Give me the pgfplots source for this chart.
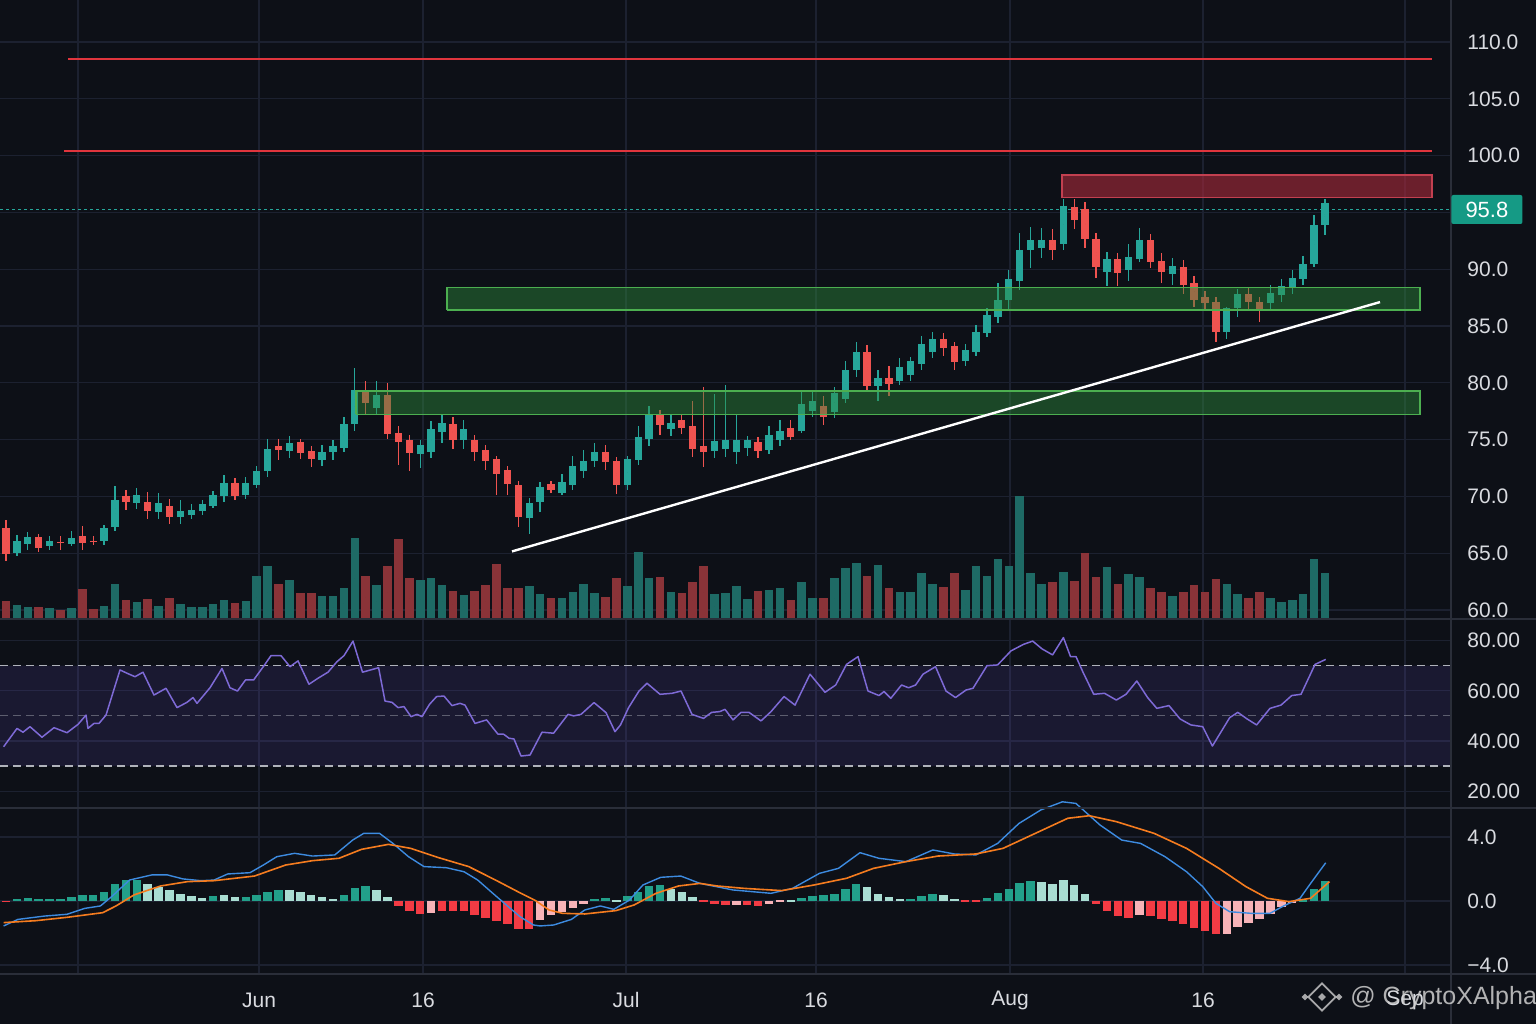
\documentclass[border=0pt]{standalone}
\usepackage{pgfplots}
\usepackage{pgfplotstable}
\pgfplotsset{compat=1.18}
\usetikzlibrary{shapes.geometric}
\usepackage{fontspec}
\setmainfont{Liberation Sans}
\definecolor{bg}{HTML}{0D1017}
\definecolor{gridc}{HTML}{1C2130}
\definecolor{sepc}{HTML}{2A2E39}
\definecolor{lab}{HTML}{D9DBE0}
\definecolor{up}{HTML}{26A69A}
\definecolor{dn}{HTML}{EF5350}
\definecolor{volup}{HTML}{1E6A65}
\definecolor{voldn}{HTML}{8A3338}
\definecolor{hup}{HTML}{22A08A}
\definecolor{hupl}{HTML}{A9DDD2}
\definecolor{hdn}{HTML}{F23B44}
\definecolor{hdnl}{HTML}{F7B3B8}
\definecolor{rsil}{HTML}{7E6AD6}
\definecolor{rsiband}{HTML}{6A4FC8}
\definecolor{dashc}{HTML}{B0B3BB}
\definecolor{macdb}{HTML}{3D8BE0}
\definecolor{macdo}{HTML}{F57C1F}
\definecolor{resl}{HTML}{E0353D}
\definecolor{zonegf}{HTML}{2E8B3C}
\definecolor{zonegd}{HTML}{4CAF50}
\definecolor{zonerf}{HTML}{AA293A}
\definecolor{zonerd}{HTML}{C24050}
\definecolor{tagc}{HTML}{159A85}
\definecolor{wm}{HTML}{CFCFCF}

\pgfplotstableread{
i o h l c v m k
0 67.2 67.9 64.3 64.9 17 -0.05 2
1 65.0 66.6 64.8 66.1 13 0.12 0
2 65.8 66.9 65.3 66.4 11 0.17 0
3 66.4 66.7 65.1 65.5 11 0.10 0
4 65.6 66.5 65.3 66.1 10 0.12 0
5 66.0 66.5 65.3 65.9 8 0.12 0
6 65.8 67.0 65.6 66.3 10 0.27 0
7 66.5 67.4 65.3 65.9 29 0.38 0
8 66.1 66.5 65.7 66.0 9 0.35 0
9 66.1 67.5 65.7 67.2 12 0.56 0
10 67.3 70.9 67.0 69.7 34 1.08 0
11 70.0 70.6 68.8 69.5 18 1.33 0
12 69.4 70.7 68.9 70.1 16 1.29 0
13 69.5 70.4 68.0 68.7 19 1.08 1
14 68.6 70.3 68.0 69.4 12 0.88 1
15 69.2 69.8 67.6 68.2 20 0.71 1
16 68.2 69.7 67.6 68.7 14 0.46 1
17 68.4 69.3 68.0 68.8 11 0.29 1
18 68.7 69.7 68.4 69.3 11 0.21 1
19 69.2 70.5 69.0 70.1 14 0.29 0
20 70.0 71.9 69.5 71.2 18 0.38 1
21 71.2 71.6 69.7 70.0 15 0.25 1
22 70.1 71.7 69.8 71.2 17 0.25 0
23 71.0 72.7 70.7 72.2 42 0.40 0
24 72.2 75.1 71.7 74.2 52 0.56 0
25 74.4 75.1 73.2 74.1 34 0.71 0
26 74.0 75.3 73.4 74.7 38 0.67 1
27 74.8 75.1 73.3 73.8 25 0.54 1
28 74.0 74.4 72.6 73.3 25 0.35 1
29 73.2 74.5 72.7 73.9 22 0.23 1
30 73.9 75.0 73.2 74.4 22 0.15 1
31 74.3 77.0 73.9 76.4 30 0.35 0
32 76.4 81.3 75.8 79.4 80 0.83 0
33 79.4 80.2 77.3 78.2 42 0.92 0
34 77.8 80.2 77.3 78.9 33 0.71 1
35 78.9 80.0 75.1 75.5 52 0.25 1
36 75.6 76.2 72.8 74.8 79 -0.29 2
37 75.0 75.4 72.2 73.8 40 -0.63 2
38 73.7 75.0 72.5 74.5 38 -0.83 2
39 73.9 76.6 73.4 75.9 40 -0.75 3
40 75.7 77.2 74.7 76.5 33 -0.63 2
41 76.4 77.0 74.2 75.0 27 -0.63 2
42 75.0 76.7 74.2 75.9 23 -0.63 2
43 75.0 75.4 73.1 73.9 27 -0.90 2
44 74.1 74.5 72.3 73.1 33 -1.04 2
45 73.3 73.6 70.1 72.0 54 -1.25 2
46 72.3 72.7 70.1 71.1 30 -1.46 2
47 71.0 71.4 67.3 68.2 30 -1.73 2
48 68.1 69.9 66.7 69.4 32 -1.73 2
49 69.5 71.3 68.6 70.8 24 -1.21 3
50 71.1 71.4 70.3 70.6 20 -0.90 3
51 70.3 72.0 70.1 71.3 20 -0.69 3
52 71.0 73.6 70.6 72.7 26 -0.42 3
53 72.2 74.1 71.6 73.1 34 -0.17 3
54 73.1 74.7 72.6 73.9 25 0.12 0
55 73.9 74.5 72.3 73.0 21 0.21 0
56 73.1 73.5 70.2 71.0 40 0.05 1
57 71.0 73.6 70.6 73.3 32 0.29 0
58 73.2 76.2 72.8 75.2 66 0.56 0
59 75.1 78.0 74.4 77.3 40 0.92 0
60 77.2 77.6 75.4 76.3 41 0.98 0
61 75.9 77.3 75.3 76.5 26 0.77 1
62 76.7 77.2 75.5 76.0 25 0.56 1
63 76.2 78.4 73.5 74.2 36 0.25 1
64 74.4 79.6 72.6 73.9 52 -0.02 2
65 74.0 79.0 73.4 74.9 24 -0.17 2
66 74.2 79.8 73.5 75.0 25 -0.27 2
67 73.9 77.2 72.9 75.0 32 -0.27 3
68 74.3 75.3 73.6 75.0 19 -0.27 2
69 74.8 75.2 73.4 74.0 27 -0.33 2
70 74.1 76.2 73.7 75.4 28 -0.21 3
71 75.0 76.7 74.4 75.8 30 -0.02 3
72 76.0 76.7 75.0 75.2 18 0.04 1
73 75.8 79.2 75.6 78.1 36 0.19 0
74 77.5 79.2 77.0 78.4 20 0.31 0
75 78.0 78.8 76.3 77.0 20 0.38 0
76 77.4 79.6 76.9 79.1 40 0.46 0
77 78.6 81.9 78.2 81.1 50 0.77 0
78 81.1 83.6 80.5 82.7 55 1.04 0
79 82.7 83.3 79.4 79.7 42 0.88 1
80 79.7 81.1 78.4 80.4 53 0.46 1
81 80.4 81.5 78.8 79.9 30 0.25 1
82 80.2 82.2 79.8 81.4 26 0.15 1
83 80.7 82.3 80.2 81.9 26 0.15 0
84 81.7 84.1 81.1 83.4 45 0.31 0
85 82.7 84.5 82.2 83.9 34 0.42 0
86 83.9 84.4 82.4 83.1 31 0.35 1
87 83.2 83.6 81.1 81.8 45 0.10 1
88 81.9 83.4 81.5 82.9 28 -0.02 2
89 82.7 85.1 82.4 84.5 52 -0.02 2
90 84.4 86.6 84.0 86.0 42 0.19 0
91 85.8 88.8 85.3 87.3 59 0.48 0
92 87.3 89.9 86.5 89.1 52 0.77 0
93 89.0 93.2 88.2 91.7 122 1.13 0
94 91.7 93.7 90.1 92.6 45 1.25 0
95 91.9 93.6 91.0 92.6 34 1.19 1
96 92.6 93.5 90.8 91.7 36 1.08 1
97 92.2 96.2 91.7 95.6 46 1.33 1
98 95.5 96.2 93.5 94.3 37 0.98 1
99 95.3 95.9 91.9 92.7 65 0.46 1
100 92.7 93.2 89.2 90.2 41 -0.21 2
101 89.8 91.5 88.5 90.9 51 -0.63 2
102 90.9 91.4 88.5 89.7 34 -0.96 2
103 89.9 92.2 89.0 91.1 44 -1.04 2
104 90.9 93.6 90.6 92.6 41 -0.90 3
105 92.6 93.1 90.1 90.6 30 -0.96 2
106 90.7 91.4 88.8 89.8 26 -1.10 2
107 89.6 91.0 88.6 90.3 22 -1.25 2
108 90.2 90.8 87.8 88.6 26 -1.42 2
109 88.8 89.4 86.7 87.3 33 -1.67 2
110 87.6 88.1 86.3 87.0 26 -1.87 2
111 87.1 87.6 83.6 84.5 39 -2.08 2
112 84.5 86.7 83.9 86.6 34 -2.04 3
113 86.6 88.3 85.8 87.8 24 -1.62 3
114 87.8 88.4 86.5 87.1 20 -1.37 3
115 87.1 87.6 85.4 86.3 26 -1.10 3
116 87.0 88.6 86.3 87.9 20 -0.79 3
117 87.7 89.1 87.1 88.5 16 -0.38 3
118 88.4 89.9 87.8 89.2 18 -0.13 3
119 89.1 91.2 88.6 90.5 24 0.04 0
120 90.5 94.8 90.2 93.9 59 0.77 0
121 93.9 96.2 93.0 95.8 45 1.23 0
}\candles

\newcommand{\errplot}[4]{%
\addplot[only marks, mark=*, mark size=0pt, mark options={draw=none, fill=none}, forget plot,
  error bars/.cd, y dir=both, y explicit, error mark=none,
  error bar style={draw=#1, line width=#2}]
  table[x expr={6+10.9*\thisrow{i}}, y expr={#3}, y error expr={#4}] {\candles};}

\pgfplotsset{
  panel/.style={
    scale only axis, width=725pt, anchor=south west,
    xmin=0, xmax=1450,
    axis line style={draw=none},
    major tick length=0pt,
    xtick={78,259,423,626,816,1010,1203,1405},
    xticklabels={},
    xmajorgrids, ymajorgrids,
    grid style={gridc, line width=0.6pt},
    ticklabel style={font=\fontsize{10.5}{12}\selectfont, text=lab},
    yticklabel pos=right,
    yticklabel style={anchor=west, inner sep=0pt, xshift=8.5pt},
  },
}

\begin{document}
\begin{tikzpicture}
\useasboundingbox (0,0) rectangle (768pt,512pt);
\fill[bg] (0,0) rectangle (768pt,512pt);

% ---------------- price panel ----------------
\begin{axis}[panel, at={(0pt,203pt)}, height=309pt,
  ymin=59.3, ymax=113.7,
  ytick={60,65,70,75,80,85,90,95,100,105,110},
  yticklabels={60.0,65.0,70.0,75.0,80.0,85.0,90.0,{},100.0,105.0,110.0}]
% volume
\errplot{voldn}{4.3pt}{\thisrow{c}<\thisrow{o} ? 59.3+\thisrow{v}/22.72 : nan}{\thisrow{v}/22.72}
\errplot{volup}{4.3pt}{\thisrow{c}>=\thisrow{o} ? 59.3+\thisrow{v}/22.72 : nan}{\thisrow{v}/22.72}
% resistance lines
\addplot[resl, line width=0.8pt] coordinates {(68,108.5) (1432,108.5)};
\addplot[resl, line width=0.8pt] coordinates {(64,100.4) (1432,100.4)};
% last price line
\addplot[up, line width=0.5pt, dash pattern=on 1.5pt off 1.5pt] coordinates {(0,95.3) (1450,95.3)};
% candles
\errplot{dn}{0.65pt}{\thisrow{c}<\thisrow{o} ? (\thisrow{h}+\thisrow{l})/2 : nan}{(\thisrow{h}-\thisrow{l})/2}
\errplot{up}{0.65pt}{\thisrow{c}>=\thisrow{o} ? (\thisrow{h}+\thisrow{l})/2 : nan}{(\thisrow{h}-\thisrow{l})/2}
\errplot{dn}{3.65pt}{\thisrow{c}<\thisrow{o} ? (\thisrow{o}+\thisrow{c})/2 : nan}{max(abs(\thisrow{c}-\thisrow{o})/2,0.05)}
\errplot{up}{3.65pt}{\thisrow{c}>=\thisrow{o} ? (\thisrow{o}+\thisrow{c})/2 : nan}{max(abs(\thisrow{c}-\thisrow{o})/2,0.05)}
% zones
\addplot[fill=zonegf, fill opacity=0.45, draw=zonegd, line width=0.6pt]
  coordinates {(447,86.41) (1420,86.41) (1420,88.41) (447,88.41) (447,86.41)};
\addplot[fill=zonegf, fill opacity=0.45, draw=zonegd, line width=0.6pt]
  coordinates {(356,77.23) (1420,77.23) (1420,79.28) (356,79.28) (356,77.23)};
\addplot[fill=zonerf, fill opacity=0.6, draw=zonerd, line width=0.6pt]
  coordinates {(1062,96.3) (1432,96.3) (1432,98.29) (1062,98.29) (1062,96.3)};
% trend line
\addplot[white, line width=1.2pt] coordinates {(512,65.16) (1380,87.11)};
\end{axis}

% ---------------- RSI panel ----------------
\begin{axis}[panel, at={(0pt,108pt)}, height=94.5pt,
  ymin=13.3, ymax=88.6,
  ytick={20,40,60,80}, yticklabels={20.00,40.00,60.00,80.00}]
\addplot[draw=none, fill=rsiband, fill opacity=0.15]
  coordinates {(0,30) (1450,30) (1450,70) (0,70) (0,30)};
\addplot[dashc, line width=0.6pt, dash pattern=on 4pt off 2.5pt] coordinates {(0,70) (1450,70)};
\addplot[dashc, opacity=0.45, line width=0.6pt, dash pattern=on 4pt off 2.5pt] coordinates {(0,50) (1450,50)};
\addplot[dashc, line width=0.6pt, dash pattern=on 4pt off 2.5pt] coordinates {(0,30) (1450,30)};
\addplot[rsil, line width=0.75pt, line join=round] coordinates {
(3.6,37.7) (17,45.0) (23,43.5) (30,45.7) (42,41.5) (54,45.3) (67,43.3) (78,46.6)
(86,50.3) (88,45.0) (94,47.0) (99,47.0) (106,50.3) (120,68.3) (127,67.0) (135,65.6)
(143,67.4) (154,58.3) (166,61.0) (177,53.3) (187,55.4) (193,57.3) (197,55.0) (210,61.2)
(222,68.9) (230,61.2) (237.5,59.9) (245.5,64.3) (253.6,64.3) (264,70.0) (271,74.0) (281,74.0)
(290,69.6) (298,71.9) (309,62.6) (318,65.0) (328,67.4) (337,71.6) (344,74.0) (353,79.8)
(362.5,67.4) (378.6,69.2) (385,55.9) (392,55.4) (398,53.3) (404,53.7) (411,49.7) (417,50.6)
(422,49.7) (429.5,54.6) (436.6,57.7) (444,57.9) (452,54.1) (460,55.0) (465,54.3) (475,47.0)
(486.6,48.4) (498,42.7) (503.6,42.7) (509,41.1) (514,40.8) (521,34.0) (530,34.4) (542,43.5)
(553.6,43.1) (568,50.6) (573.7,50.0) (581,50.6) (594,55.3) (606,51.3) (615,43.7) (620.5,46.4)
(628.6,53.3) (639,59.9) (647,63.0) (660,58.6) (672,59.0) (681,59.9) (692,50.6) (703.5,49.0)
(711.6,51.4) (719.7,51.7) (725,52.6) (733,48.4) (741,51.4) (749,51.4) (761,48.0) (771,51.7)
(784,57.7) (795,54.3) (810,66.6) (825,59.4) (835.7,62.3) (846.5,70.5) (858,73.6) (868,59.9)
(879,58.1) (884,59.7) (890.8,57.0) (901.5,62.3) (908.6,61.2) (915.6,62.3) (923,66.6) (935.5,69.6)
(946,59.9) (955.5,57.3) (966,60.3) (973,61.0) (987,70.0) (997.6,70.3) (1011,75.9) (1023.5,78.5)
(1032.7,79.8) (1042,76.7) (1052.6,74.3) (1063.4,81.2) (1070.5,73.6) (1076,73.6) (1083,67.4) (1093.7,58.6)
(1104.5,59.0) (1116.3,56.3) (1126,58.6) (1136.8,63.9) (1147.6,57.3) (1156.8,53.0) (1169,54.1) (1180,48.8)
(1190.8,46.4) (1202.7,45.7) (1212.4,38.0) (1229.7,49.3) (1237.8,51.4) (1247,48.8) (1256.6,46.4) (1270,53.0)
(1281,54.3) (1291.7,58.1) (1301,58.6) (1315,70.5) (1325.7,72.5)};
\end{axis}

% ---------------- MACD panel ----------------
\begin{axis}[panel, at={(0pt,25pt)}, height=83pt,
  ymin=-4.5625, ymax=5.8125, clip=false,
  ytick={-4,0,4}, yticklabels={−4.0,0.0,4.0},
  xticklabels={{},Jun,16,Jul,16,Aug,16,Sep},
  xticklabel style={anchor=center, yshift=-13pt}]
\errplot{hup}{4.25pt}{\thisrow{k}==0 ? \thisrow{m}/2 : nan}{max(abs(\thisrow{m})/2,0.05)}
\errplot{hupl}{4.25pt}{\thisrow{k}==1 ? \thisrow{m}/2 : nan}{max(abs(\thisrow{m})/2,0.05)}
\errplot{hdn}{4.25pt}{\thisrow{k}==2 ? \thisrow{m}/2 : nan}{max(abs(\thisrow{m})/2,0.05)}
\errplot{hdnl}{4.25pt}{\thisrow{k}==3 ? \thisrow{m}/2 : nan}{max(abs(\thisrow{m})/2,0.05)}
\addplot[macdb, line width=0.7pt, line join=round] coordinates {
(3.6,-1.56) (17.9,-1.15) (44.6,-0.94) (67,-0.83) (84.8,-0.46) (100.4,-0.31) (111.6,0.27) (129.5,1.31)
(151.8,1.63) (167.4,1.63) (183,1.38) (201,1.27) (214,1.31) (227.7,1.69) (250,1.77) (263.4,2.25)
(276.8,2.77) (294.6,2.98) (312.5,2.81) (334.8,2.88) (352.7,3.81) (363.8,4.23) (379.5,4.23) (392.9,3.60)
(408.5,2.77) (424,2.15) (446.4,2.08) (464,1.83) (477.7,1.31) (491,0.58) (504.5,-0.15) (520,-0.98)
(533.5,-1.5) (540,-1.56) (553.6,-1.5) (571.4,-1.15) (584.8,-0.56) (600.4,-0.31) (613.8,-0.52) (629.5,0.06)
(642.9,1.0) (660.7,1.48) (680.8,1.56) (700,1.1) (733,0.69) (771,0.48) (792.5,0.79) (819.5,1.73)
(838.4,2.04) (860,3.02) (878.9,2.67) (905.9,2.46) (932.8,3.19) (954.4,2.94) (976,2.88) (997.6,3.6)
(1019,4.85) (1040.8,5.69) (1062.4,6.2) (1075.9,6.1) (1100,4.75) (1121.7,3.81) (1140.6,3.6) (1165,2.77)
(1186.5,1.83) (1202.7,0.90) (1216,-0.15) (1229.7,-0.67) (1251,-0.77) (1270,-0.77) (1283.6,-0.31) (1300,0.17)
(1310.6,1.1) (1325.7,2.39)};
\addplot[macdo, line width=0.8pt, line join=round] coordinates {
(3.6,-1.35) (35.7,-1.23) (67,-1.02) (102.7,-0.73) (116,-0.31) (134,0.38) (160.7,0.94) (187.5,1.21)
(214,1.27) (254.5,1.56) (285.7,2.25) (312.5,2.52) (339,2.67) (361.6,3.23) (388.4,3.54) (410.7,3.29)
(437.5,2.73) (468.75,2.15) (495.5,1.31) (517.9,0.58) (535.7,0.02) (549,-0.56) (562.5,-0.77) (584.8,-0.81)
(616,-0.6) (634,-0.25) (656,0.48) (678.6,0.94) (700,1.1) (717,0.94) (744,0.79) (781.7,0.65)
(814,1.0) (846.5,1.42) (873.5,2.04) (905.9,2.46) (938,2.81) (976,2.94) (1003,3.29) (1035.4,4.23)
(1067.8,5.17) (1089.3,5.33) (1116.3,4.96) (1154,4.23) (1186.5,3.29) (1218.9,2.04) (1245.9,0.90) (1267.4,0.17)
(1289,-0.04) (1310.6,0.17) (1329.5,1.21)};
\end{axis}

% panel separators
\draw[sepc, line width=1pt] (0,202.75pt) -- (768pt,202.75pt);
\draw[sepc, line width=1pt] (0,108.25pt) -- (768pt,108.25pt);
\draw[sepc, line width=1pt] (0,25pt) -- (768pt,25pt);
\draw[sepc, line width=1pt] (725.25pt,0) -- (725.25pt,512pt);

% last price tag
\node[fill=tagc, text=white, anchor=west, minimum width=35.5pt, minimum height=14.5pt,
  inner sep=0pt, rounded corners=1pt, font=\fontsize{11}{12}\selectfont]
  at (725.5pt,407.25pt) {95.8};

% watermark
\node[diamond, fill=wm, fill opacity=0.8, minimum size=4pt, inner sep=0pt] at (661pt,13.5pt) {};
\node[diamond, draw=wm, draw opacity=0.8, line width=0.9pt, minimum size=14pt, inner sep=0pt] at (661pt,13.5pt) {};
\node[diamond, fill=wm, fill opacity=0.8, minimum size=3.5pt, inner sep=0pt] at (652.5pt,13.5pt) {};
\node[diamond, fill=wm, fill opacity=0.8, minimum size=3.5pt, inner sep=0pt] at (669.5pt,13.5pt) {};
\node[anchor=west, text=wm, text opacity=0.85, inner sep=0pt, font=\fontsize{12.5}{14}\selectfont]
  at (675pt,13pt) {@ CryptoXAlpha};
\end{tikzpicture}
\end{document}
